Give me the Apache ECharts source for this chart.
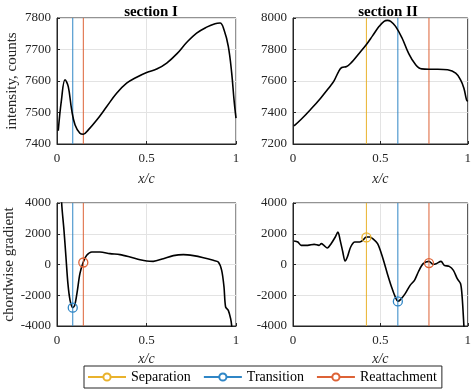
<!DOCTYPE html>
<html><head><meta charset="utf-8">
<script src="https://cdn.jsdelivr.net/npm/echarts@6/dist/echarts.min.js"></script>
<style>html,body{margin:0;padding:0;background:#fff}#c{width:474px;height:392px}</style>
</head><body><div id="c"></div>
<script>
// Section I intensity [x/c, counts]
const intensityI = [[0.007,7442],[0.025,7540],[0.045,7604],[0.063,7582],[0.082,7508],[0.101,7460],[0.128,7434],[0.147,7431],[0.175,7445],[0.222,7476],[0.278,7519],[0.333,7561],[0.389,7593],[0.445,7612],[0.501,7627],[0.557,7638],[0.613,7657],[0.669,7686],[0.724,7722],[0.780,7752],[0.836,7771],[0.883,7782],[0.911,7784],[0.933,7763],[0.957,7710],[0.976,7625],[0.989,7540],[1.0,7482]];
// Section II intensity
const intensityII = [[0.006,7315],[0.047,7357],[0.102,7421],[0.158,7491],[0.214,7569],[0.233,7597],[0.261,7660],[0.279,7686],[0.307,7692],[0.335,7718],[0.372,7767],[0.419,7830],[0.456,7888],[0.493,7947],[0.521,7979],[0.540,7985],[0.559,7979],[0.587,7947],[0.624,7873],[0.661,7777],[0.698,7709],[0.736,7677],[0.778,7675],[0.829,7675],[0.885,7671],[0.931,7650],[0.959,7607],[0.978,7554],[0.993,7480],[1.0,7470]];
// Section I chordwise gradient
const gradientI = [[0.012,8000],[0.026,4000],[0.039,2222],[0.050,488],[0.061,-1247],[0.073,-2330],[0.088,-2807],[0.099,-2656],[0.114,-1680],[0.128,-596],[0.147,163],[0.166,596],[0.194,813],[0.240,813],[0.296,705],[0.352,640],[0.408,488],[0.464,314],[0.501,228],[0.538,206],[0.594,379],[0.650,575],[0.706,640],[0.762,575],[0.818,444],[0.873,271],[0.901,163],[0.920,-379],[0.933,-1463],[0.942,-2764],[0.957,-2980],[0.970,-3523],[0.976,-4000],[0.985,-5500]];
// Section II chordwise gradient
const gradientII = [[0.006,1528],[0.028,1463],[0.047,1247],[0.084,1247],[0.121,1312],[0.149,1247],[0.162,1355],[0.177,1247],[0.196,1073],[0.218,1355],[0.242,1789],[0.257,2114],[0.270,1572],[0.285,813],[0.298,228],[0.311,488],[0.330,1138],[0.354,1463],[0.382,1463],[0.400,1572],[0.419,1789],[0.438,1789],[0.456,1680],[0.484,1355],[0.512,488],[0.540,-596],[0.564,-1463],[0.587,-2157],[0.600,-2395],[0.615,-2287],[0.642,-1897],[0.670,-1355],[0.695,-1030],[0.717,-488],[0.745,54],[0.778,206],[0.801,10],[0.819,54],[0.847,206],[0.866,-54],[0.894,-119],[0.918,-379],[0.940,-921],[0.959,-1247],[0.968,-2114],[0.978,-4000],[0.985,-5500]];
// Event locations: [x/c, gradient marker value]
const eventNames = ['Separation','Transition','Reattachment'];
const eventsI = {Transition:[0.088,-2807], Reattachment:[0.147,130]};
const eventsII = {Separation:[0.42,1760], Transition:[0.60,-2400], Reattachment:[0.778,90]};
const yTopI = [7400,7800,100], yTopII = [7200,8000,200], yGrad = [-4000,4000,2000];
const titles = ['section I','section II'];

const colors = {Separation:'#E9B22C', Transition:'#2F86C6', Reattachment:'#DD6236'};
const FONT = 'Liberation Serif';
const grids = [
  {left:57, top:18, width:179, height:126},
  {left:293, top:18, width:179, height:126},
  {left:57, top:203, width:179, height:123},
  {left:293, top:203, width:179, height:123}
].map(g => Object.assign({show:true, borderColor:'#262626', borderWidth:1, containLabel:false}, g));

const yRanges = [yTopI, yTopII, yGrad, yGrad];
const xAxis = grids.map((g,i) => ({
  type:'value', gridIndex:i, min:0, max:1, interval:0.5,
  name:'x/c', nameLocation:'middle', nameGap:i < 2 ? 28 : 26,
  nameTextStyle:{fontFamily:FONT, fontStyle:'italic', fontSize:14, color:'#262626'},
  axisLine:{show:true, onZero:false, lineStyle:{color:'#262626'}},
  axisTick:{show:true, inside:true, length:3, lineStyle:{color:'#262626'}},
  axisLabel:{fontFamily:FONT, fontSize:13, color:'#262626', margin:8, formatter:v => String(v)},
  splitLine:{show:true, lineStyle:{color:'#e3e3e3', width:1}}
}));
const yNames = ['intensity, counts','','chordwise gradient',''];
const yAxis = grids.map((g,i) => ({
  type:'value', gridIndex:i, min:yRanges[i][0], max:yRanges[i][1], interval:yRanges[i][2],
  name:yNames[i], nameLocation:'middle', nameGap:37,
  nameTextStyle:{fontFamily:FONT, fontSize:15, color:'#262626'},
  axisLine:{show:true, onZero:false, lineStyle:{color:'#262626'}},
  axisTick:{show:true, inside:true, length:3, lineStyle:{color:'#262626'}},
  axisLabel:{fontFamily:FONT, fontSize:13, color:'#262626', margin:6, formatter:v => String(v)},
  splitLine:{show:true, lineStyle:{color:'#e3e3e3', width:1}}
}));

const series = [];
function curve(data, i, smooth){
  series.push({type:'line', xAxisIndex:i, yAxisIndex:i, data:data, smooth:smooth, showSymbol:false,
    symbol:'none', lineStyle:{color:'#000', width:1.6}, clip:true, silent:true, z:3});
}
function events(ev, gTop, gBot){
  eventNames.forEach(n => {
    if(!ev[n]) return;
    const x = ev[n][0];
    const top = yRanges[gTop];
    series.push({type:'line', name:n, xAxisIndex:gTop, yAxisIndex:gTop, symbol:'emptyCircle', showSymbol:false,
      data:[[x,top[0]],[x,top[1]]], lineStyle:{color:colors[n], width:1}, itemStyle:{color:colors[n]}, z:2, silent:true});
    const bot = yRanges[gBot];
    series.push({type:'line', name:n, xAxisIndex:gBot, yAxisIndex:gBot, symbol:'emptyCircle', symbolSize:9,
      data:[{value:[x,bot[0]],symbol:'none'},
            {value:[x,ev[n][1]], symbol:'circle', itemStyle:{color:'rgba(0,0,0,0)', borderColor:colors[n], borderWidth:1.3}},
            {value:[x,bot[1]],symbol:'none'}],
      lineStyle:{color:colors[n], width:1}, itemStyle:{color:colors[n], borderWidth:1.3}, z:4, silent:true});
  });
}
events(eventsI, 0, 2);
events(eventsII, 1, 3);
curve(intensityI, 0, 0.4);
curve(intensityII, 1, 0.4);
curve(gradientI, 2, 0.3);
curve(gradientII, 3, 0.3);

const chart = echarts.init(document.getElementById('c'), null, {renderer:'canvas'});
chart.setOption({
  animation:false,
  backgroundColor:'#fff',
  title:[
    {text:titles[0], left:146, top:0, textAlign:'center', textStyle:{fontFamily:FONT, fontWeight:'bold', fontSize:15, color:'#000'}},
    {text:titles[1], left:383, top:0, textAlign:'center', textStyle:{fontFamily:FONT, fontWeight:'bold', fontSize:15, color:'#000'}}
  ],
  grid:grids, xAxis:xAxis, yAxis:yAxis,
  legend:{data:eventNames, left:84, top:366, orient:'horizontal', itemWidth:38, itemHeight:9, itemGap:12,
    padding:[4,5,4,3], borderColor:'#262626', borderWidth:1, backgroundColor:'#fff',
    itemStyle:{borderWidth:1},
    textStyle:{fontFamily:FONT, fontSize:14, color:'#000'}, selectedMode:false},
  series:series
});
</script></body></html>
